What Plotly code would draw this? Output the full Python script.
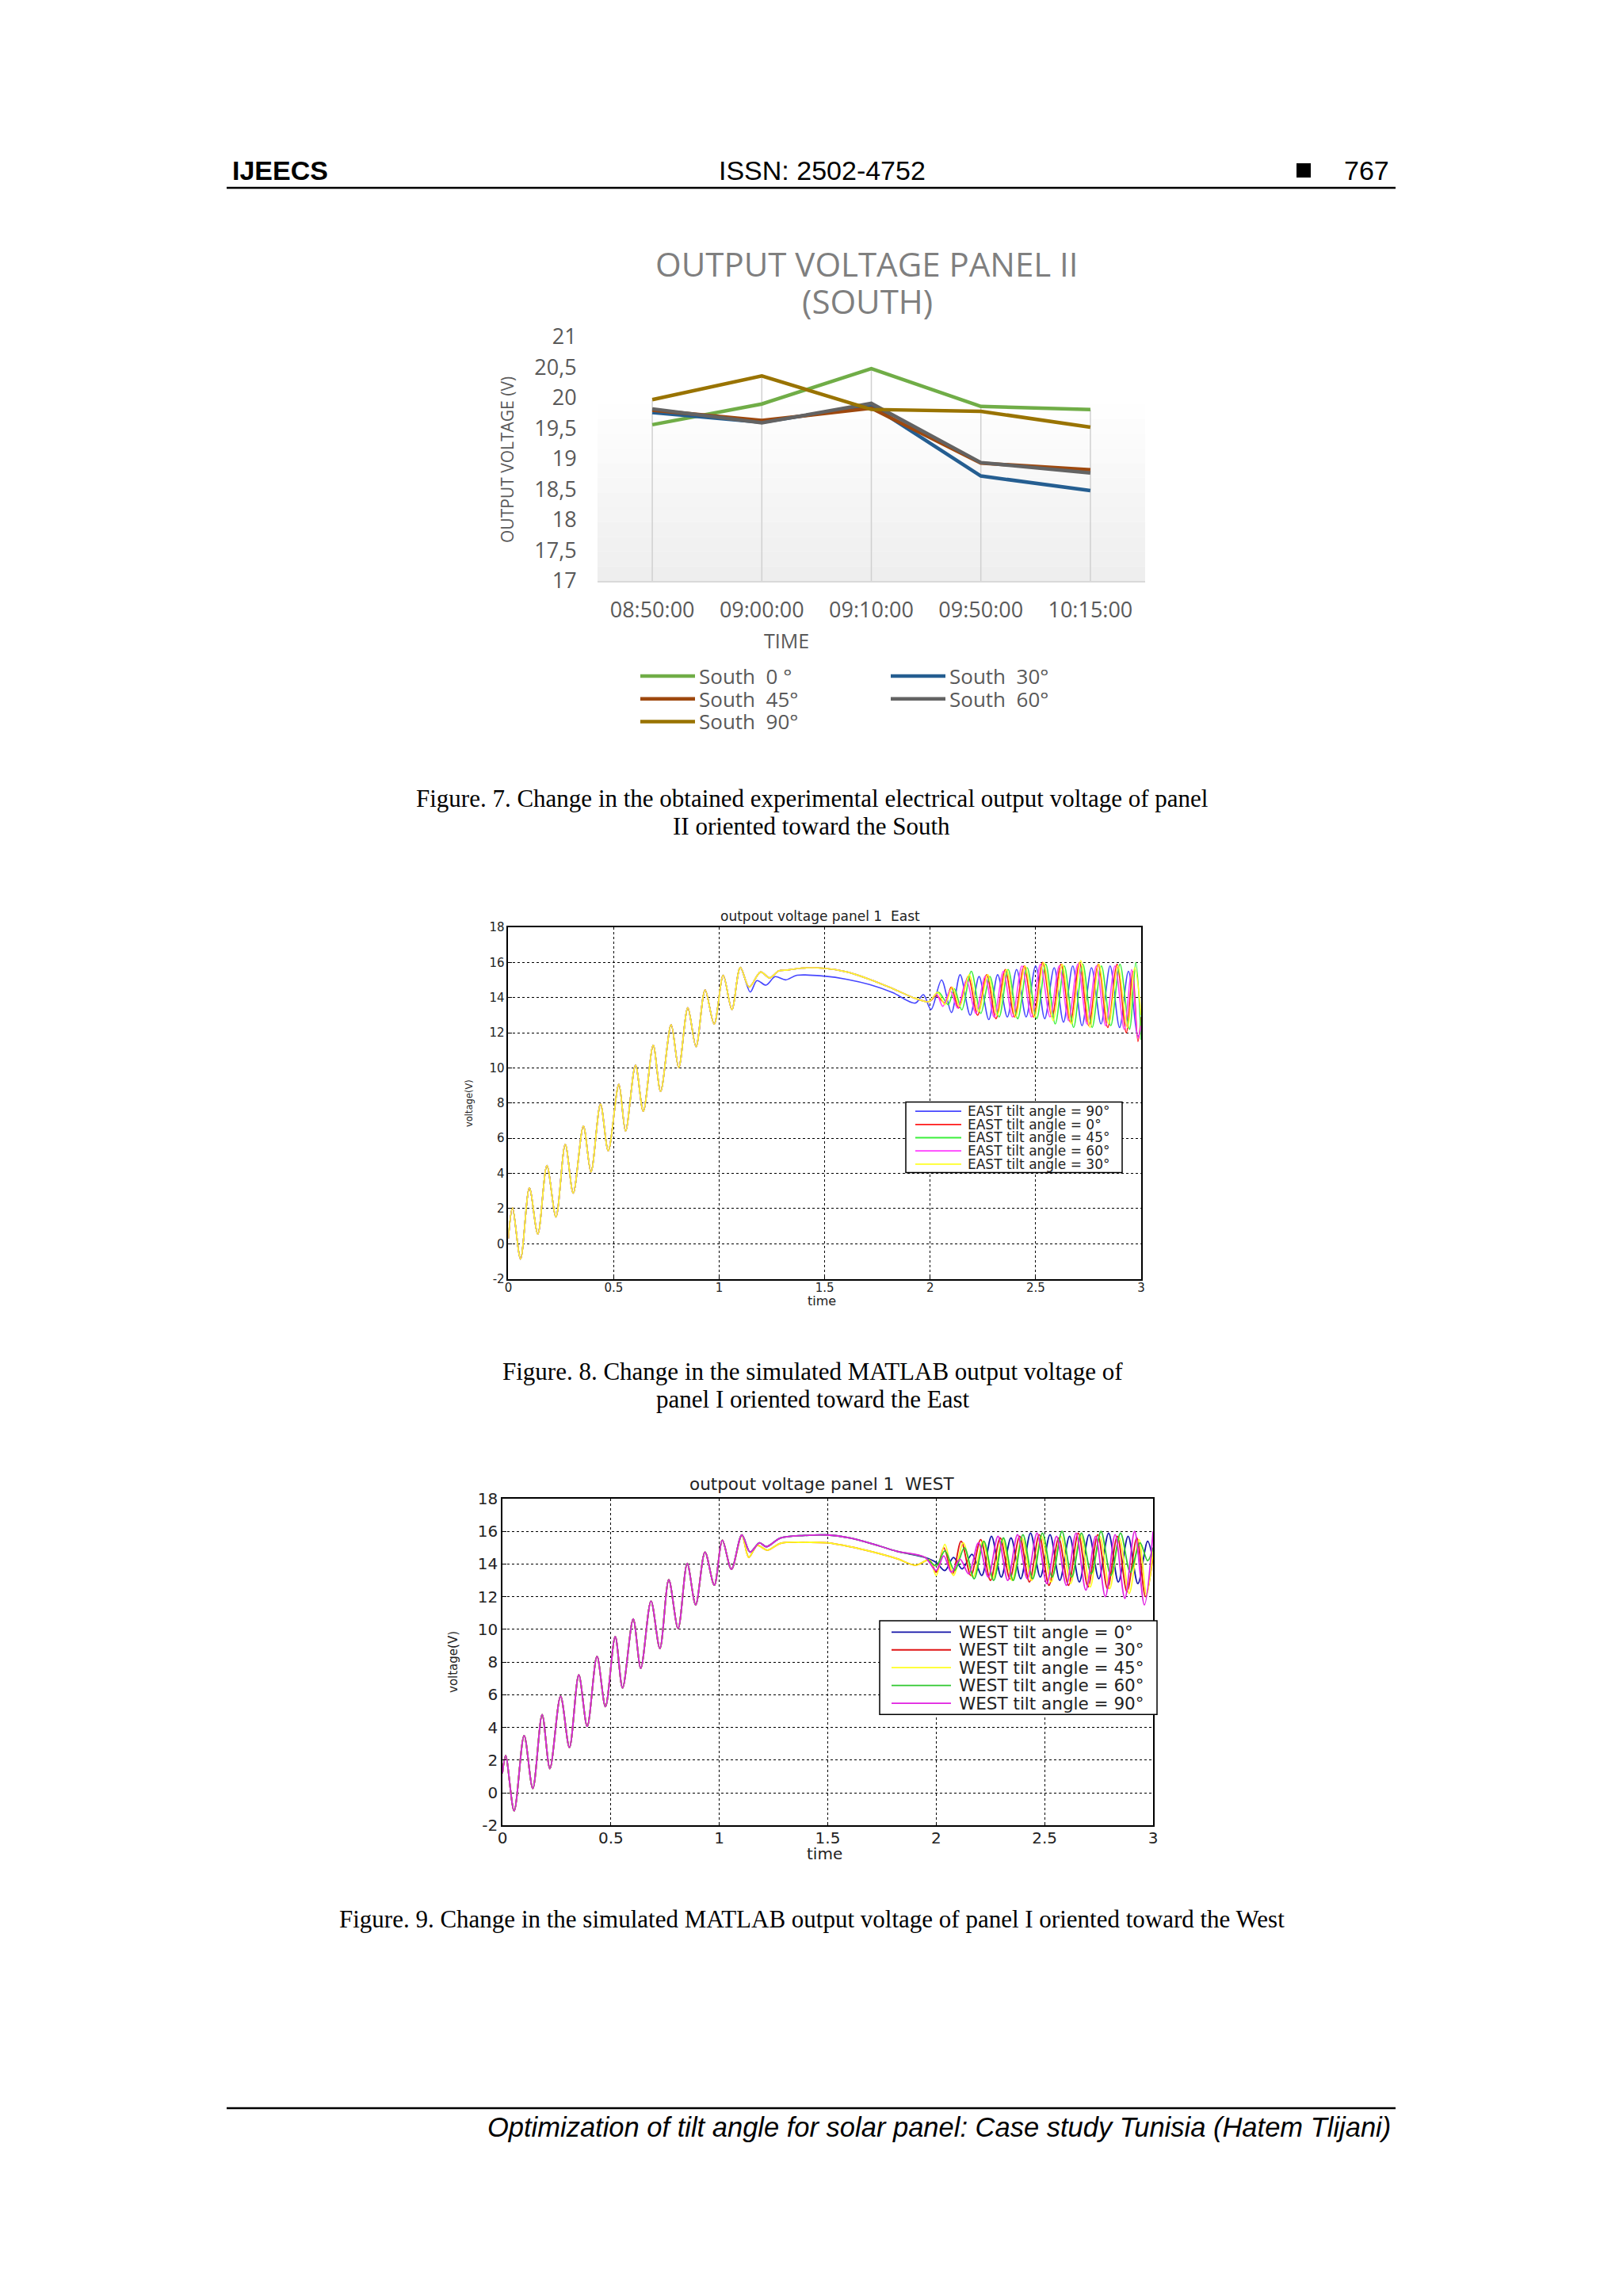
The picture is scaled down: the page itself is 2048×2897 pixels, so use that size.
import plotly.graph_objects as go

W, H = 2048, 2897
def px(x): return x / W
def py(y): return 1 - y / H

# ---------------- Figure 7 data (experimental, South) ----------------
times = ["08:50:00", "09:00:00", "09:10:00", "09:50:00", "10:15:00"]
south_0 = [19.56, 19.90, 20.48, 19.86, 19.81]
south_30 = [19.76, 19.60, 19.88, 18.72, 18.48]
south_45 = [19.80, 19.63, 19.83, 18.93, 18.82]
south_60 = [19.82, 19.59, 19.91, 18.94, 18.77]
south_90 = [19.97, 20.36, 19.81, 19.78, 19.52]
y7_ticks = [17, 17.5, 18, 18.5, 19, 19.5, 20, 20.5, 21]
y7_text = ["17", "17,5", "18", "18,5", "19", "19,5", "20", "20,5", "21"]

# ---------------- Figure 8 data (simulated, East) ----------------
east_rise_t = [0, 0.02, 0.058, 0.10, 0.14, 0.183, 0.226, 0.27, 0.308, 0.356, 0.392, 0.437, 0.474,
               0.524, 0.556, 0.603, 0.64, 0.687, 0.722, 0.772, 0.808, 0.851, 0.89, 0.933, 0.976,
               1.019, 1.06, 1.10]
east_rise_v = [0.3, 2.05, -0.87, 3.18, 0.55, 4.45, 1.53, 5.66, 2.88, 6.7, 4.08, 7.95, 5.28,
               9.07, 6.41, 10.16, 7.53, 11.29, 8.66, 12.46, 10.01, 13.42, 11.21, 14.44, 12.49,
               15.27, 13.32, 15.72]
east_mid_t = [1.142, 1.196, 1.239, 1.282, 1.325, 1.39, 1.498, 1.606, 1.713, 1.821, 1.929, 1.994]
east_mid_v = [14.6, 15.46, 15.12, 15.52, 15.57, 15.68, 15.67, 15.46, 15.04, 14.52, 13.96, 13.77]
east_mid90_t = [1.147, 1.179, 1.222, 1.265, 1.315, 1.369, 1.498, 1.606, 1.713, 1.821, 1.929]
east_mid90_v = [14.32, 14.97, 14.71, 15.19, 15.01, 15.27, 15.22, 15.04, 14.74, 14.29, 13.69]

east90_t = [1.968, 2.004, 2.054, 2.101, 2.142, 2.19, 2.232, 2.278, 2.32, 2.366, 2.41, 2.455, 2.5,
            2.543, 2.588, 2.632, 2.676, 2.72, 2.765, 2.81, 2.853, 2.898, 2.94, 2.985, 3.0]
east90_v = [14.17, 13.32, 15.0, 13.15, 15.3, 13.0, 15.2, 12.75, 15.3, 12.9, 15.6, 12.9, 15.8,
            12.8, 15.7, 12.6, 15.8, 12.4, 15.7, 12.5, 15.8, 12.3, 15.5, 11.8, 12.2]
east0_t = [2.03, 2.07, 2.1, 2.135, 2.18, 2.225, 2.268, 2.312, 2.356, 2.4, 2.445, 2.49, 2.533,
           2.578, 2.62, 2.665, 2.708, 2.752, 2.797, 2.842, 2.886, 2.93, 2.96, 2.985, 3.0]
east0_v = [14.1, 13.7, 14.6, 13.4, 15.2, 13.0, 15.3, 12.8, 15.6, 12.9, 15.8, 12.9, 16.0,
           12.9, 15.9, 12.6, 16.0, 12.4, 15.9, 12.3, 15.9, 12.0, 15.5, 11.5, 12.9]
east45_t = [2.04, 2.085, 2.115, 2.15, 2.195, 2.24, 2.283, 2.327, 2.37, 2.415, 2.46, 2.505, 2.548,
            2.593, 2.636, 2.68, 2.724, 2.768, 2.812, 2.856, 2.9, 2.945, 2.975, 3.0]
east45_v = [14.3, 13.6, 14.5, 13.3, 15.5, 13.1, 15.2, 12.9, 15.6, 12.8, 15.7, 12.8, 15.9,
            12.5, 15.8, 12.3, 15.9, 12.3, 15.8, 12.4, 15.9, 12.2, 16.0, 11.6]
east60_t = [2.03, 2.06, 2.095, 2.13, 2.172, 2.216, 2.26, 2.303, 2.347, 2.39, 2.435, 2.48, 2.523,
            2.568, 2.612, 2.656, 2.7, 2.744, 2.788, 2.832, 2.876, 2.92, 2.955, 2.985, 3.0]
east60_v = [14.2, 13.5, 14.4, 13.4, 15.0, 13.1, 15.2, 12.9, 15.5, 12.9, 15.8, 12.9, 15.9,
            12.9, 15.8, 12.7, 15.9, 12.5, 15.8, 12.4, 15.8, 12.2, 15.6, 11.7, 12.4]
east30_t = [2.035, 2.07, 2.105, 2.14, 2.185, 2.23, 2.273, 2.318, 2.362, 2.405, 2.45, 2.495, 2.538,
            2.583, 2.626, 2.67, 2.714, 2.758, 2.8, 2.846, 2.89, 2.935, 2.97, 3.0]
east30_v = [14.3, 13.6, 14.6, 13.5, 15.3, 13.2, 15.3, 13.0, 15.6, 12.9, 15.8, 12.9, 16.0,
            12.7, 15.9, 12.5, 16.1, 12.3, 15.9, 12.5, 15.8, 12.3, 15.7, 13.0]

# ---------------- Figure 9 data (simulated, West) ----------------
west_rise_t = [0, 0.015, 0.054, 0.10, 0.14, 0.183, 0.219, 0.268, 0.309, 0.352, 0.391, 0.436, 0.475,
               0.52, 0.554, 0.603, 0.638, 0.685, 0.726, 0.767, 0.81, 0.852, 0.891, 0.934, 0.977,
               1.014, 1.056, 1.104]
west_rise_v = [1.2, 2.28, -1.11, 3.5, 0.26, 4.79, 1.48, 5.92, 2.77, 7.22, 4.06, 8.35, 5.27,
               9.56, 6.41, 10.64, 7.62, 11.74, 8.83, 13.04, 10.05, 14.04, 11.5, 14.73, 12.71,
               15.46, 13.68, 15.78]
west_up_t = [1.142, 1.185, 1.217, 1.282, 1.39, 1.497, 1.604, 1.711, 1.819, 1.948]
west_up_v = [14.73, 15.3, 15.06, 15.59, 15.75, 15.78, 15.59, 15.22, 14.78, 14.41]
west_low_t = [1.136, 1.175, 1.222, 1.282, 1.39, 1.497, 1.604, 1.711, 1.819, 1.905, 1.969]
west_low_v = [14.41, 15.14, 14.85, 15.27, 15.33, 15.3, 15.06, 14.73, 14.33, 13.93, 14.25]

west0_t = [2.0, 2.04, 2.08, 2.12, 2.165, 2.21, 2.255, 2.3, 2.345, 2.39, 2.435, 2.48, 2.525,
           2.57, 2.615, 2.66, 2.705, 2.75, 2.795, 2.84, 2.885, 2.93, 2.975, 3.0]
west0_v = [14.1, 13.6, 14.4, 13.7, 14.6, 13.3, 15.7, 13.2, 15.6, 13.1, 15.9, 13.2, 15.8,
           13.0, 15.7, 12.9, 15.8, 13.1, 15.9, 12.9, 15.7, 12.8, 15.4, 14.2]
west30_t = [2.0, 2.035, 2.075, 2.115, 2.16, 2.205, 2.25, 2.295, 2.34, 2.385, 2.43, 2.475, 2.52,
            2.565, 2.61, 2.655, 2.7, 2.745, 2.79, 2.835, 2.88, 2.925, 2.965, 3.0]
west30_v = [13.5, 15.0, 13.4, 15.4, 13.3, 15.5, 13.0, 15.6, 13.1, 15.7, 12.9, 15.8, 12.7,
            15.6, 12.7, 15.9, 12.6, 15.8, 12.5, 15.7, 12.3, 15.6, 12.0, 14.5]
west45_t = [2.0, 2.04, 2.08, 2.125, 2.17, 2.215, 2.26, 2.305, 2.35, 2.395, 2.44, 2.485, 2.53,
            2.575, 2.62, 2.665, 2.71, 2.755, 2.8, 2.845, 2.89, 2.935, 2.97, 3.0]
west45_v = [13.3, 15.2, 13.3, 15.3, 13.2, 15.4, 13.1, 15.5, 13.0, 15.6, 13.0, 15.7, 12.9,
            15.7, 12.8, 15.8, 12.6, 15.7, 12.5, 15.6, 12.2, 15.5, 12.1, 14.8]
west60_t = [2.0, 2.04, 2.085, 2.13, 2.175, 2.22, 2.265, 2.31, 2.355, 2.4, 2.445, 2.49, 2.535,
            2.58, 2.625, 2.67, 2.715, 2.76, 2.805, 2.85, 2.895, 2.94, 2.975, 3.0]
west60_v = [13.9, 14.8, 13.6, 15.0, 13.1, 15.4, 13.0, 15.6, 13.0, 15.8, 13.1, 15.9, 13.2,
            16.0, 13.2, 15.9, 13.4, 16.0, 13.3, 15.9, 13.5, 15.3, 14.2, 15.0]
west90_t = [2.0, 2.035, 2.07, 2.11, 2.15, 2.195, 2.24, 2.285, 2.33, 2.375, 2.42, 2.465, 2.51,
            2.555, 2.6, 2.645, 2.69, 2.735, 2.78, 2.825, 2.87, 2.915, 2.96, 3.0]
west90_v = [13.6, 14.5, 13.5, 14.3, 13.4, 15.3, 13.2, 15.7, 13.0, 15.8, 13.1, 15.9, 12.8,
            15.7, 12.7, 15.9, 12.4, 15.7, 12.0, 15.8, 11.9, 16.0, 11.5, 16.0]

sim_xticks = [0, 0.5, 1, 1.5, 2, 2.5, 3]
sim_xtext = ["0", "0.5", "1", "1.5", "2", "2.5", "3"]
sim_yticks = [-2, 0, 2, 4, 6, 8, 10, 12, 14, 16, 18]
sim_ytext = ["-2", "0", "2", "4", "6", "8", "10", "12", "14", "16", "18"]

fig = go.Figure()

# ---------- Figure 7 traces ----------
fig7_series = [
    ("South\u00a0\u00a00\u00a0°", south_0, "#70AD47"),
    ("South\u00a0\u00a030°", south_30, "#255E91"),
    ("South\u00a0\u00a045°", south_45, "#9E480E"),
    ("South\u00a0\u00a060°", south_60, "#636363"),
    ("South\u00a0\u00a090°", south_90, "#997300"),
]
drop_x, drop_y = [], []
for i, c in enumerate(times):
    top = max(s[1][i] for s in fig7_series)
    drop_x += [c, c, None]
    drop_y += [top, 17, None]
fig.add_trace(go.Scatter(x=drop_x, y=drop_y, mode="lines", line=dict(color="#d0d0d0", width=1.5),
                         xaxis="x", yaxis="y", showlegend=False, hoverinfo="skip"))
for name, vals, col in fig7_series:
    fig.add_trace(go.Scatter(x=times, y=vals, mode="lines", name=name,
                             line=dict(color=col, width=4.5), xaxis="x", yaxis="y", showlegend=False))

# ---------- Figure 8 traces ----------
east_series = [
    ("EAST tilt angle = 90°", "#4646ff", east_rise_t + east_mid90_t + east90_t, east_rise_v + east_mid90_v + east90_v),
    ("EAST tilt angle = 0°", "#ff1a1a", east_rise_t + east_mid_t + east0_t, east_rise_v + east_mid_v + east0_v),
    ("EAST tilt angle = 45°", "#3cf03c", east_rise_t + east_mid_t + east45_t, east_rise_v + east_mid_v + east45_v),
    ("EAST tilt angle = 60°", "#ff3cff", east_rise_t + east_mid_t + east60_t, east_rise_v + east_mid_v + east60_v),
    ("EAST tilt angle = 30°", "#ffff26", east_rise_t + east_mid_t + east30_t, east_rise_v + east_mid_v + east30_v),
]
for name, col, tt, vv in east_series:
    fig.add_trace(go.Scatter(x=tt, y=vv, mode="lines", name=name, line=dict(color=col, width=1.6, shape="spline", smoothing=0.9),
                             xaxis="x2", yaxis="y2", showlegend=False))

# ---------- Figure 9 traces ----------
west_series = [
    ("WEST tilt angle = 0°", "#1414a8", west_rise_t + west_up_t + west0_t, west_rise_v + west_up_v + west0_v),
    ("WEST tilt angle = 30°", "#e01414", west_rise_t + west_low_t + west30_t, west_rise_v + west_low_v + west30_v),
    ("WEST tilt angle = 45°", "#ffff20", west_rise_t + west_low_t + west45_t, west_rise_v + west_low_v + west45_v),
    ("WEST tilt angle = 60°", "#30c830", west_rise_t + west_up_t + west60_t, west_rise_v + west_up_v + west60_v),
    ("WEST tilt angle = 90°", "#e020e0", west_rise_t + west_up_t + west90_t, west_rise_v + west_up_v + west90_v),
]
for name, col, tt, vv in west_series:
    fig.add_trace(go.Scatter(x=tt, y=vv, mode="lines", name=name, line=dict(color=col, width=1.8, shape="spline", smoothing=0.9),
                             xaxis="x3", yaxis="y3", showlegend=False))

shapes = []
annotations = []

def text(t, x, y, size, family="Liberation Sans", color="black", xanchor="center", yanchor="middle", angle=0, align="center"):
    annotations.append(dict(text=t, x=px(x), y=py(y), xref="paper", yref="paper", showarrow=False,
                            xanchor=xanchor, yanchor=yanchor, textangle=angle, borderpad=0, align=align,
                            font=dict(family=family, size=size, color=color)))

def hline(x0, x1, y, color="black", width=1.0):
    shapes.append(dict(type="line", xref="paper", yref="paper", x0=px(x0), x1=px(x1), y0=py(y), y1=py(y),
                       line=dict(color=color, width=width)))

def legend_block(names, x, y_first, gap, glyph, family, color):
    # one text block per legend column: line spacing = 1.3 * base size
    base = gap / 1.3
    body = "<br>".join(f"<span style='font-size:{glyph}px'>{n}</span>" for n in names)
    n = len(names)
    yc = y_first + gap * (n - 1) / 2
    text(body, x, yc, base, family=family, color=color, xanchor="left", align="left")

# ---------- header / footer ----------
text("<b>IJEECS</b>", 292, 215, 34, xanchor="left")
text("ISSN: 2502-4752", 1037, 215, 34)
text("767", 1754, 215, 34, xanchor="right")
shapes.append(dict(type="rect", xref="paper", yref="paper", x0=px(1636), x1=px(1654), y0=py(224), y1=py(206),
                   fillcolor="black", line=dict(width=0)))
hline(286, 1761, 237, width=2.5)
hline(286, 1761, 2660, width=2.5)
text("<i>Optimization of tilt angle for solar panel: Case study Tunisia (Hatem Tlijani)</i>", 1756, 2684, 34.5, xanchor="right")

# ---------- Figure 7 decorations ----------
nb = 12
for k in range(nb):
    v0 = 19.9 - (19.9 - 17) * k / nb
    v1 = 19.9 - (19.9 - 17) * (k + 1) / nb
    g = int(255 - (255 - 238) * (k + 0.5) / nb)
    shapes.append(dict(type="rect", xref="x domain", yref="y", x0=0, x1=1, y0=v1, y1=v0,
                       fillcolor=f"rgb({g},{g},{g})", line=dict(width=0), layer="below"))
text("OUTPUT VOLTAGE PANEL II", 1094, 333, 42, family="Open Sans", color="#7f7f7f")
text("(SOUTH)", 1094, 379, 42, family="Open Sans", color="#7f7f7f")
text("OUTPUT VOLTAGE (V)", 640, 580, 21, family="Open Sans", color="#595959", angle=-90)
text("TIME", 992, 808, 25, family="Open Sans", color="#595959")
col1 = [0, 2, 4]
col2 = [1, 3]
for j, idx in enumerate(col1):
    hline(808, 877, 853 + 28.7 * j, color=fig7_series[idx][2], width=4.5)
for j, idx in enumerate(col2):
    hline(1124, 1193, 853 + 28.7 * j, color=fig7_series[idx][2], width=4.5)
legend_block([fig7_series[i][0] for i in col1], 881, 853, 28.7, 26, "Open Sans", "#595959")
legend_block([fig7_series[i][0] for i in col2], 1197, 853, 28.7, 26, "Open Sans", "#595959")

# ---------- Figure 8 decorations ----------
text("outpout voltage panel 1\u00a0\u00a0East", 1035, 1156, 17, family="DejaVu Sans", color="#222")
text("time", 1037, 1641, 16, family="DejaVu Sans", color="#222")
text("voltage(V)", 592, 1392, 11.5, family="DejaVu Sans", color="#222", angle=-90)
shapes.append(dict(type="rect", xref="paper", yref="paper", x0=px(1143), x1=px(1416), y0=py(1479.4), y1=py(1390.5),
                   fillcolor="white", line=dict(color="black", width=1.5)))
for j, s in enumerate(east_series):
    hline(1155, 1213, 1402.2 + 16.65 * j, color=s[1], width=1.8)
legend_block([s[0] for s in east_series], 1220, 1402.2, 16.65, 17, "DejaVu Sans", "#222")

# ---------- Figure 9 decorations ----------
text("outpout voltage panel 1\u00a0\u00a0WEST", 1037, 1873, 21.5, family="DejaVu Sans", color="#222")
text("time", 1040, 2339, 20, family="DejaVu Sans", color="#222")
text("voltage(V)", 572, 2097, 15, family="DejaVu Sans", color="#222", angle=-90)
shapes.append(dict(type="rect", xref="paper", yref="paper", x0=px(1110), x1=px(1460), y0=py(2163.3), y1=py(2045),
                   fillcolor="white", line=dict(color="black", width=1.5)))
for j, s in enumerate(west_series):
    hline(1125, 1200, 2059.3 + 22.45 * j, color=s[1], width=1.8)
legend_block([s[0] for s in west_series], 1209, 2059.3, 22.45, 21.5, "DejaVu Sans", "#222")

# ---------- captions ----------
cap_font = "Liberation Serif"
text("Figure. 7. Change in the obtained experimental electrical output voltage of panel", 1024, 1007, 31, family=cap_font)
text("II oriented toward the South", 1024, 1042, 31, family=cap_font)
text("Figure. 8. Change in the simulated MATLAB output voltage of", 1025, 1730, 31, family=cap_font)
text("panel I oriented toward the East", 1025, 1765, 31, family=cap_font)
text("Figure. 9. Change in the simulated MATLAB output voltage of panel I oriented toward the West", 1024, 2421, 31, family=cap_font)

sim_axis_common = dict(showgrid=True, gridcolor="black", gridwidth=1, griddash="3px,3px", zeroline=False,
                       showline=True, linecolor="black", linewidth=1.5, mirror=True, automargin=False,
                       ticks="inside", ticklen=5, tickcolor="black")

fig.update_layout(
    template="none",
    width=W, height=H, margin=dict(l=0, r=0, t=0, b=0, pad=0, autoexpand=False),
    paper_bgcolor="white", plot_bgcolor="rgba(0,0,0,0)",
    showlegend=False,
    xaxis=dict(domain=[px(754), px(1445)], anchor="y", type="category", range=[-0.5, 4.5], automargin=False,
               showgrid=False, showline=True, linecolor="#d9d9d9", linewidth=1.5, zeroline=False,
               ticks="outside", ticklen=12, tickcolor="rgba(0,0,0,0)",
               tickfont=dict(family="Open Sans", size=27, color="#595959")),
    yaxis=dict(domain=[py(733), py(425)], anchor="x", range=[17, 21], tickvals=y7_ticks, ticktext=y7_text,
               showgrid=False, showline=False, zeroline=False, automargin=False,
               ticks="outside", ticklen=20, tickcolor="rgba(0,0,0,0)",
               tickfont=dict(family="Open Sans", size=27, color="#595959")),
    xaxis2=dict(domain=[px(641.4), px(1439.9)], anchor="y2", range=[0, 3], tickvals=sim_xticks, ticktext=sim_xtext,
                ticklabelstandoff=-3,
                tickfont=dict(family="DejaVu Sans", size=15, color="#222"), **sim_axis_common),
    yaxis2=dict(domain=[py(1613.7), py(1170)], anchor="x2", range=[-2, 18], tickvals=sim_yticks, ticktext=sim_ytext,
                tickfont=dict(family="DejaVu Sans", size=15, color="#222"), **sim_axis_common),
    xaxis3=dict(domain=[px(634), px(1455)], anchor="y3", range=[0, 3], tickvals=sim_xticks, ticktext=sim_xtext,
                ticklabelstandoff=-3,
                tickfont=dict(family="DejaVu Sans", size=20, color="#222"), **sim_axis_common),
    yaxis3=dict(domain=[py(2303.3), py(1891)], anchor="x3", range=[-2, 18], tickvals=sim_yticks, ticktext=sim_ytext,
                tickfont=dict(family="DejaVu Sans", size=20, color="#222"), **sim_axis_common),
    shapes=shapes,
    annotations=annotations,
)

fig.write_html("out.html", config={"displayModeBar": False},
               post_script="document.body.style.margin='0';document.body.style.overflow='hidden';"
                           "document.documentElement.style.overflow='hidden';")
